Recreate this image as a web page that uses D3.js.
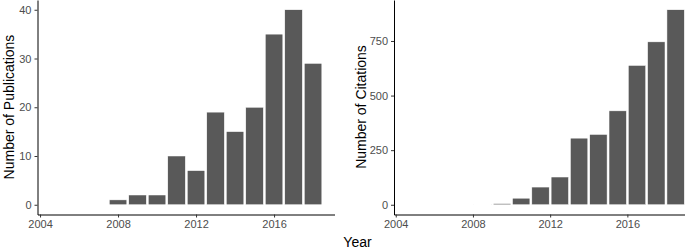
<!DOCTYPE html>
<html>
<head>
<meta charset="utf-8">
<script src="https://cdn.jsdelivr.net/npm/d3@7"></script>
<style>
  body { margin: 0; background: #fff; }
  svg { display: block; font-family: "Liberation Sans", Arial, sans-serif; }
</style>
</head>
<body>
<svg width="685" height="250"></svg>
<script>
const pubYears = [2008, 2009, 2010, 2011, 2012, 2013, 2014, 2015, 2016, 2017, 2018];
const publications = [1, 2, 2, 10, 7, 19, 15, 20, 35, 40, 29];

const citeYears = [2008, 2009, 2010, 2011, 2012, 2013, 2014, 2015, 2016, 2017, 2018];
const citations = [2, 5, 30, 81, 127, 305, 322, 430, 638, 746, 893];

const xTicks = [2004, 2008, 2012, 2016];
const pubTicks = [0, 10, 20, 30, 40];
const citeTicks = [0, 250, 500, 750];

const svg = d3.select("svg");

function drawPanel(opts) {
  const g = svg.append("g");
  const maxV = d3.max(opts.values);

  const x = d3.scaleLinear()
    .domain(opts.xDomain)
    .range(opts.xRange);

  const y = d3.scaleLinear()
    .domain([-maxV * 0.05, maxV * 1.05])
    .range([214.5, 0]);

  const bw = x(0.9) - x(0);

  g.selectAll("rect.bar")
    .data(opts.years)
    .join("rect")
      .attr("class", "bar")
      .attr("x", d => x(d + opts.shift) - bw / 2)
      .attr("width", bw)
      .attr("y", (d, i) => y(opts.values[i]))
      .attr("height", (d, i) => y(0) - y(opts.values[i]))
      .attr("fill", "#595959")
      .attr("stroke", "#fff")
      .attr("stroke-width", 0.5);

  const xAxis = g.append("g")
    .attr("transform", "translate(0,214.5)")
    .call(d3.axisBottom(x).tickValues(xTicks).tickFormat(d3.format("d"))
      .tickSize(3).tickSizeOuter(0).tickPadding(3));

  const yAxis = g.append("g")
    .attr("transform", `translate(${opts.xRange[0]},0)`)
    .call(d3.axisLeft(y).tickValues(opts.yTicks)
      .tickSize(3).tickSizeOuter(0).tickPadding(3));

  [xAxis, yAxis].forEach(a => {
    a.select(".domain").attr("stroke", "#000").attr("stroke-width", 1);
    a.selectAll(".tick line").attr("stroke", "#333").attr("stroke-width", 1);
    a.selectAll(".tick text")
      .attr("fill", "#4d4d4d")
      .style("font-size", "11px")
      .style("font-family", "Liberation Sans, Arial, sans-serif");
  });

  g.append("text")
    .attr("transform", `translate(${opts.titleX},107) rotate(-90)`)
    .attr("text-anchor", "middle")
    .style("font-size", "14px")
    .attr("fill", "#000")
    .text(opts.title);
}

drawPanel({
  years: pubYears,
  values: publications,
  shift: 0,
  xDomain: [2003.87, 2019.1],
  xRange: [37.5, 334.5],
  yTicks: pubTicks,
  title: "Number of Publications",
  titleX: 13.5
});

drawPanel({
  years: citeYears,
  values: citations,
  shift: 0.5,
  xDomain: [2003.91, 2019.1],
  xRange: [394, 687.2],
  yTicks: citeTicks,
  title: "Number of Citations",
  titleX: 365.5
});

svg.append("text")
  .attr("x", 357.5)
  .attr("y", 246.5)
  .attr("text-anchor", "middle")
  .style("font-size", "14px")
  .attr("fill", "#000")
  .text("Year");
</script>
</body>
</html>
